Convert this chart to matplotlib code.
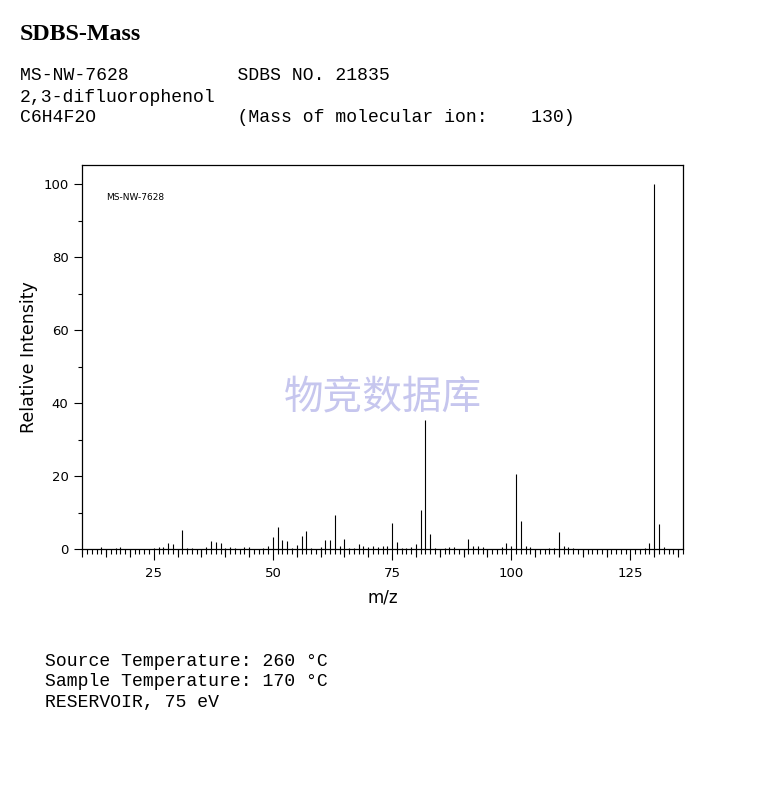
import matplotlib
matplotlib.use("Agg")
import matplotlib.pyplot as plt
import numpy as np

# ---- data ----
mz = [14, 17, 18, 25, 26, 27, 28, 29, 31, 32, 33, 36, 37, 38, 39, 40, 41, 42,
      44, 45, 48, 49, 50, 51, 52, 53, 54, 55, 56, 57, 58, 60, 61, 62, 63, 64,
      65, 66, 67, 68, 69, 70, 71, 72, 73, 74, 75, 76, 77, 78, 79, 80, 81, 82,
      83, 84, 86, 87, 88, 91, 92, 93, 94, 98, 99, 100, 101, 102, 103, 104,
      108, 109, 110, 111, 112, 113, 128, 129, 130, 131, 132]
intensity = [0.5, 0.4, 0.7, 0.4, 0.7, 0.7, 1.8, 1.5, 5.3, 0.4, 0.4, 0.6, 2.3, 2.0, 1.7, 0.4, 0.6, 0.4,
             0.5, 0.5, 0.4, 0.9, 3.4, 6.1, 2.6, 2.3, 0.4, 1.2, 3.6, 5.0, 0.4, 0.6, 2.6, 2.6, 9.4, 0.9,
             2.8, 0.4, 0.3, 1.4, 0.9, 0.7, 0.9, 0.5, 0.9, 0.9, 7.2, 2.0, 0.3, 0.3, 0.6, 1.4, 10.7, 35.4,
             4.2, 0.3, 0.3, 0.5, 0.7, 2.9, 0.8, 0.8, 0.5, 0.5, 1.6, 1.0, 20.6, 7.7, 0.8, 0.5,
             0.4, 0.4, 4.7, 0.9, 0.6, 0.4, 0.4, 1.8, 100.0, 7.0, 0.6]
xticks = [25, 50, 75, 100, 125]
yticks = [0, 20, 40, 60, 80, 100]

header_title = "SDBS-Mass"
header_lines = ["MS-NW-7628          SDBS NO. 21835",
                "2,3-difluorophenol",
                "C6H4F2O             (Mass of molecular ion:    130)"]
footer_lines = ["Source Temperature: 260 \u00b0C",
                "Sample Temperature: 170 \u00b0C",
                "RESERVOIR, 75 eV"]

W, H = 765, 794
fig = plt.figure(figsize=(W / 100, H / 100), dpi=100)
fig.patch.set_facecolor("white")

def fx(px):
    return px / W

def fy(py):
    return 1 - py / H

ax = fig.add_axes([fx(82.3), fy(549.3), fx(683.3) - fx(82.3), fy(165) - fy(549.3)])
ax.vlines(mz, 0, intensity, colors="black", linewidth=0.8)
ax.set_xlim(10, 136.1)
ax.set_ylim(0, 105.2)
for s in ax.spines.values():
    s.set_linewidth(0.9)
    s.set_color("black")

ax.set_xticks(xticks)
ax.set_xticks(np.arange(10, 137, 1), minor=True)
ax.set_yticks(yticks)
ax.set_yticks(np.arange(0, 105, 10), minor=True)
ax.tick_params(axis="x", which="major", direction="out", length=8, width=0.8, pad=5, labelsize=9.5)
ax.tick_params(axis="x", which="minor", direction="out", length=3.6, width=0.8)
ax.tick_params(axis="y", which="major", direction="out", length=6, width=0.8, pad=4, labelsize=9.5)
ax.tick_params(axis="y", which="minor", direction="out", length=3, width=0.8)
# medium ticks every 5 units
five = [v for v in range(10, 137, 5) if v % 25 != 0]
ax.vlines(five, 0, -7.7 / 384.3, transform=ax.get_xaxis_transform(), colors="black",
          linewidth=0.8, clip_on=False)

ax.set_xlabel("m/z", fontsize=12, labelpad=6)
ax.set_ylabel("Relative Intensity", fontsize=12.5, labelpad=4)
ax.text(0.04, 0.915, "MS-NW-7628", transform=ax.transAxes, fontsize=6.5, va="center", ha="left")

# watermark
fig.text(fx(383), fy(397), "物竞数据库", fontsize=28.5, color="#c6c6ee",
         family=["Noto Sans CJK SC", "DejaVu Sans"], ha="center", va="center")

fig.text(fx(20), fy(35), header_title, fontsize=17.3, fontweight="bold",
         family="Liberation Serif", ha="left", va="center")
for i, line in enumerate(header_lines):
    fig.text(fx(20), fy(76 + 21 * i), line, fontsize=13.1, family="Liberation Mono",
             ha="left", va="center")
for i, line in enumerate(footer_lines):
    fig.text(fx(45), fy(661 + 21 * i), line, fontsize=13.1, family="Liberation Mono",
             ha="left", va="center")

fig.savefig("out.png", dpi=100)
